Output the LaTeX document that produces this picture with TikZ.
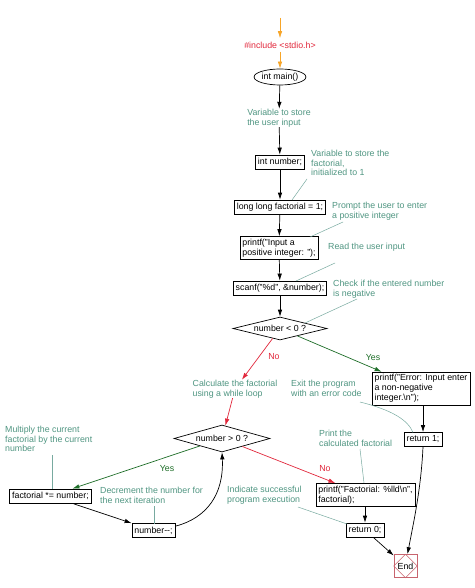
\documentclass[tikz,border=0pt]{standalone}
\usepackage{fontspec}
\setmainfont{Liberation Sans}
\usetikzlibrary{shapes.geometric,arrows.meta,calc}
\definecolor{myred}{RGB}{226,40,60}
\definecolor{mygreen}{RGB}{30,110,40}
\definecolor{myorange}{RGB}{247,165,40}
\definecolor{cmtc}{RGB}{80,150,130}
\definecolor{cmtl}{RGB}{120,170,160}
\definecolor{endred}{RGB}{200,100,110}
\begin{document}
\begin{tikzpicture}[x=1pt,y=-1pt,
  every node/.style={font=\fontsize{8.8}{9.8}\selectfont},
  box/.style={draw, line width=0.7pt, inner sep=2.5pt, minimum height=14pt, align=left},
  cmt/.style={text=cmtc, align=left, anchor=west, inner sep=0pt},
  arr/.style={-{Latex[length=7pt,width=4.5pt]}, line width=0.7pt},
  cline/.style={draw=cmtl, line width=0.5pt},
  dec/.style={draw, diamond, aspect=4, line width=0.7pt, inner sep=0pt}]
\useasboundingbox[fill=white] (0,0) rectangle (474,588);

% nodes
\coordinate (s) at (280,18);
\node[text=myred] (inc) at (280,45) {\#include <stdio.h>};
\node[draw, ellipse, line width=0.7pt, minimum width=50pt, minimum height=16pt, inner sep=0pt] (main) at (280,77) {int main()};
\node[cmt, anchor=center] (c1) at (279,118) {Variable to store\\the user input};
\node[box] (n1) at (280,162) {int number;};
\node[box] (ll) at (280,207) {long long factorial = 1;};
\node[box] (p1) at (279,248) {printf("Input a\\positive integer: ");};
\node[box] (sc) at (280,288) {scanf("\%d", \&number);};
\node[dec, minimum width=94pt, minimum height=23pt] (d1) at (280,328.5) {number < 0 ?};
\node[cmt, anchor=center] (c6) at (235,389) {Calculate the factorial\\using a while loop};
\node[box] (pe) at (421,388.5) {printf("Error: Input enter\\a non-negative\\integer.\textbackslash n");};
\node[box] (r1) at (423,439.5) {return 1;};
\node[dec, minimum width=96pt, minimum height=27pt] (d2) at (222,438.5) {number > 0 ?};
\node[box] (fb) at (50.5,496) {factorial *= number;};
\node[box] (nm) at (153.5,530.5) {number-{}-;};
\node[box] (pf) at (365.5,495) {printf("Factorial: \%lld\textbackslash n",\\factorial);};
\node[box] (r0) at (365,530) {return 0;};
\node[draw=endred, line width=0.6pt, minimum size=23pt, inner sep=0pt] (end) at (405.5,566) {End};
\draw[endred, line width=0.6pt] (end.north) -- (end.east) -- (end.south) -- (end.west) -- cycle;

% comments
\node[cmt] (c2) at (311,163) {Variable to store the\\factorial,\\initialized to 1};
\node[cmt] (c3) at (332,211) {Prompt the user to enter\\a positive integer};
\node[cmt] (c4) at (328,247) {Read the user input};
\node[cmt] (c5) at (333,289.5) {Check if the entered number\\is negative};
\node[cmt] (c7) at (291,388) {Exit the program\\with an error code};
\node[cmt] (c8) at (5,439) {Multiply the current\\factorial by the current\\number};
\node[cmt] (c9) at (100,495.5) {Decrement the number for\\the next iteration};
\node[cmt] (c10) at (319,438.5) {Print the\\calculated factorial};
\node[cmt] (c11) at (227,495.5) {Indicate successful\\program execution};

% comment lines
\coordinate (a2) at (307,179); \coordinate (b2) at (292,200);
\coordinate (a3) at (343,222); \coordinate (b3) at (310,237);
\coordinate (a4) at (335,263); \coordinate (b4) at (296,281);
\coordinate (a5) at (357,299); \coordinate (b5) at (305,323);
\coordinate (a7) at (360,402); \coordinate (b7) at (413,432.5);
\coordinate (a8) at (52,455);  \coordinate (b8) at (52,489);
\coordinate (a9) at (154,506); \coordinate (b9) at (154,523.5);
\coordinate (a10) at (360,449); \coordinate (b10) at (364,483);
\coordinate (a11) at (298,507); \coordinate (b11) at (347,524);
\draw[cline] (a2) -- (b2);
\draw[cline] (a3) -- (b3);
\draw[cline] (a4) -- (b4);
\draw[cline] (a5) -- (b5);
\draw[cline] (a7) .. controls (392,410) and (408,420) .. (b7);
\draw[cline] (a8) -- (b8);
\draw[cline] (a9) -- (b9);
\draw[cline] (a10) -- (b10);
\draw[cline] (a11) -- (b11);

% flow
\draw[arr, myorange] (s) -- (inc);
\draw[arr, myorange] (inc) -- (main);
\draw[arr] (main) -- (c1);
\draw[arr] (c1) -- (n1);
\draw[arr] (n1) -- (ll);
\draw[arr] (ll) -- (p1);
\draw[arr] (p1) -- (sc);
\draw[arr] (sc) -- (d1);
\draw[arr, myred] (d1) -- (c6);
\draw[arr, myred] (c6) -- (d2);
\draw[arr, mygreen] (d1) -- (pe);
\draw[arr] (pe.south -| r1) -- (r1);
\draw[arr, mygreen] (d2) -- (fb);
\draw[arr] (fb) -- (nm);
\draw[arr] ($(nm.north east)+(0,3)$) .. controls (207,518) and (224,494) .. (d2.south);
\draw[arr, myred] (d2) -- (pf);
\draw[arr] (pf.south -| r0) -- (r0);
\draw[arr] (r0) -- (end);
\draw[arr] (r1.south) .. controls (421,490) and (413,525) .. ($(end.north)+(2,0)$);

% labels
\node[text=myred] (lno1) at (274,357) {No};
\node[text=mygreen] (lyes1) at (373,358) {Yes};
\node[text=mygreen] (lyes2) at (167,469) {Yes};
\node[text=myred] (lno2) at (325,469) {No};
\end{tikzpicture}
\end{document}
